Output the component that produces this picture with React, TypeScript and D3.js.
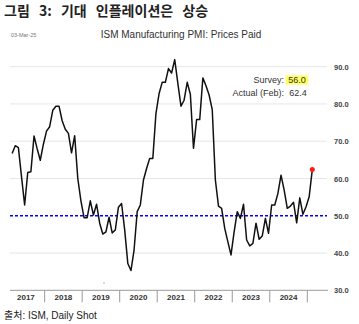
import React from "react";
import * as d3 from "d3";

// Monthly ISM Prices Paid, Feb 2017 .. Feb 2025 (month index 1 = Feb 2017)
const v2017 = [66.7, 68.8, 68.3, 60.5, 52.9, 61.6, 61.8, 71.4, 68.0, 64.9, 69.2];
const v2018 = [72.7, 73.9, 78.3, 79.4, 79.4, 75.5, 73.2, 72.1, 66.9, 71.5, 60.0, 54.0];
const v2019 = [49.5, 49.5, 54.0, 50.2, 53.1, 48.0, 45.1, 45.7, 49.6, 45.4, 46.2, 52.3];
const v2020 = [53.3, 46.2, 37.2, 35.3, 40.8, 51.1, 52.9, 59.6, 62.7, 65.4, 65.4, 77.5];
const v2021 = [82.8, 85.8, 85.8, 89.5, 88.3, 91.9, 85.5, 79.4, 81.0, 85.8, 82.6, 68.1];
const v2022 = [75.8, 75.8, 87.0, 84.9, 82.4, 78.5, 59.6, 52.6, 52.0, 46.6, 43.0, 39.5];
const v2023 = [45.7, 51.1, 49.3, 53.1, 43.5, 41.9, 42.6, 48.0, 43.7, 44.6, 49.3, 45.3];
const v2024 = [52.9, 52.9, 56.0, 60.9, 56.9, 52.0, 52.6, 53.6, 48.1, 54.8, 50.4, 52.4];
const v2025 = [55.1, 62.4];

const years = ["2017", "2018", "2019", "2020", "2021", "2022", "2023", "2024"];
const yTicks = [30, 40, 50, 60, 70, 80, 90];
const gridTicks = [40, 60, 70, 80, 90];

const values = [...v2017, ...v2018, ...v2019, ...v2020, ...v2021, ...v2022, ...v2023, ...v2024, ...v2025];
const data = values.map((v, i) => ({ m: i + 1, v }));

export default function App() {
  const x = d3.scaleLinear().domain([0, 97]).range([9, 312.3]);
  const y = d3.scaleLinear().domain([30, 90]).range([290.3, 66.7]);
  const line = d3
    .line<{ m: number; v: number }>()
    .x((d) => x(d.m))
    .y((d) => y(d.v));
  const last = data[data.length - 1];
  const gx0 = 10;
  const gx1 = 327;
  const sep = years.map((_, i) => x(12 * i - 0.6));
  sep.push(x(96 - 0.6));
  const latin = "'Liberation Sans', Arial, 'Noto Sans CJK KR', sans-serif";
  return (
    <svg
      width={359}
      height={324}
      style={{ position: "absolute", left: 0, top: 0, background: "#fff" }}
      fontFamily={latin}
    >
      <text
        x={4}
        y={15.5}
        fontFamily="'Noto Sans CJK KR', sans-serif"
        fontWeight="bold"
        fontSize={14}
        wordSpacing={6}
        fill="#222"
      >
        그림 3: 기대 인플레이션은 상승
      </text>
      <text x={11} y={36.5} fontSize={5.5} fill="#777">
        03-Mar-25
      </text>
      <text x={181} y={38} fontSize={10} fill="#333" textAnchor="middle">
        ISM Manufacturing PMI: Prices Paid
      </text>
      {gridTicks.map((t) => (
        <line key={t} x1={gx0} x2={gx1} y1={y(t)} y2={y(t)} stroke="#e6e6e6" strokeWidth={1} />
      ))}
      <line x1={gx0} x2={gx1 + 1} y1={y(30)} y2={y(30)} stroke="#999" strokeWidth={1} />
      {sep.map((s, i) =>
        i === 0 ? null : (
          <line key={i} x1={s} x2={s} y1={y(30)} y2={y(30) + 12} stroke="#999" strokeWidth={1} />
        )
      )}
      {years.map((yr, i) => (
        <text
          key={yr}
          x={(x(12 * i - 0.6) + x(12 * (i + 1) - 0.6)) / 2}
          y={300}
          fontSize={8}
          fontWeight="bold"
          fill="#333"
          textAnchor="middle"
        >
          {yr}
        </text>
      ))}
      {yTicks.map((t) => (
        <text key={t} x={334} y={y(t) + 3} fontSize={7.5} fontWeight="bold" fill="#444">
          {t.toFixed(1)}
        </text>
      ))}
      <line
        x1={gx0}
        x2={gx1}
        y1={y(50)}
        y2={y(50)}
        stroke="#0000ff"
        strokeWidth={1.4}
        strokeDasharray="3,2"
      />
      <path d={line(data) || ""} fill="none" stroke="#111" strokeWidth={1.5} strokeLinejoin="round" />
      <circle cx={x(last.m)} cy={y(last.v)} r={2.5} fill="#ff1a1a" />
      <line x1={103} x2={105} y1={283} y2={283} stroke="#f08080" strokeWidth={0.8} />
      <rect x={285.7} y={75.3} width={22.6} height={9.4} fill="#ffff66" />
      <text x={284} y={83} fontSize={9} fill="#333" textAnchor="end">
        Survey:
      </text>
      <text x={297} y={83} fontSize={9} fill="#333" textAnchor="middle">
        56.0
      </text>
      <text x={284} y={96} fontSize={9} fill="#333" textAnchor="end">
        Actual (Feb):
      </text>
      <text x={298} y={96} fontSize={9} fill="#333" textAnchor="middle">
        62.4
      </text>
      <text x={4} y={319} fontSize={10} fill="#222" fontFamily={latin}>
        출처: ISM, Daily Shot
      </text>
    </svg>
  );
}
